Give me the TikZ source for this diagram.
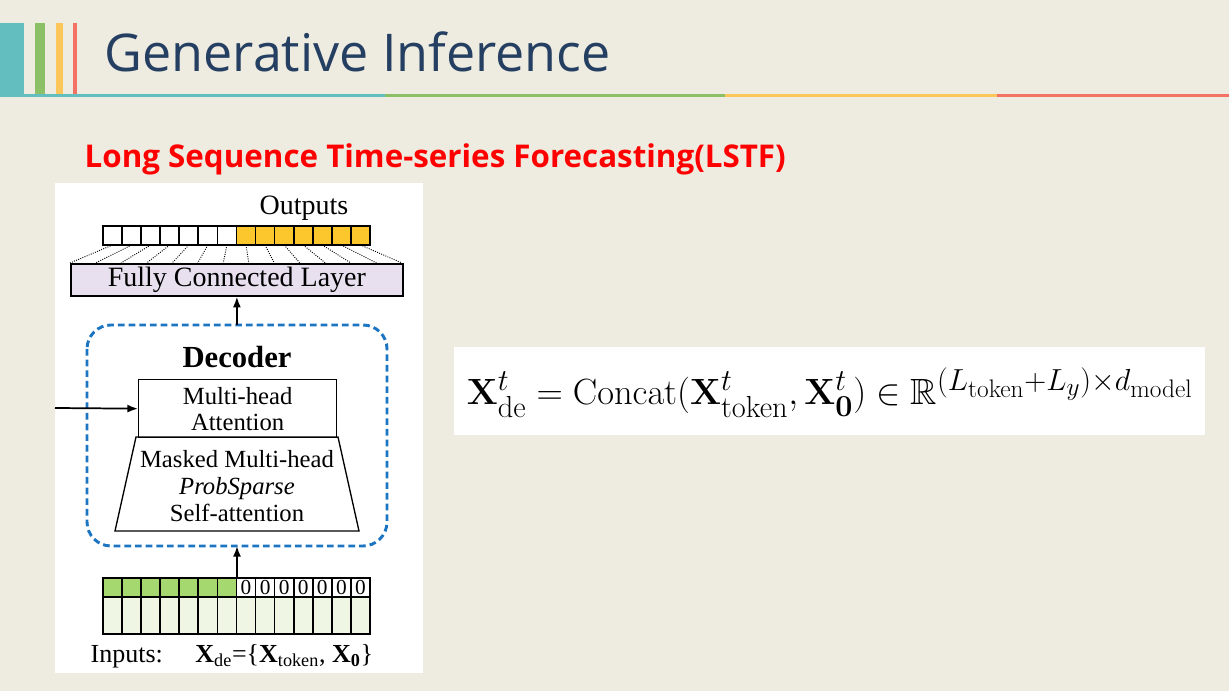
\documentclass[tikz,border=0pt]{standalone}
\usepackage{amsmath,amssymb}
\usepackage[no-math]{fontspec}
\setmainfont{Liberation Serif}
\newfontfamily\uifont{Open Sans}
\definecolor{bg}{HTML}{EEEBE0}
\definecolor{teal}{HTML}{63BFBF}
\definecolor{grn}{HTML}{8BC067}
\definecolor{yel}{HTML}{FDC65B}
\definecolor{redl}{HTML}{F47264}
\definecolor{navy}{HTML}{243F61}
\definecolor{lav}{HTML}{E8E0EF}
\definecolor{gold}{HTML}{FCC72C}
\definecolor{ingreen}{HTML}{A5D86F}
\definecolor{inpale}{HTML}{EFF7E4}
\definecolor{dblue}{HTML}{1B75C3}
\begin{document}
\begin{tikzpicture}[x=0.75pt,y=-0.75pt,
  cell/.style={draw,line width=1.3pt},
  arr/.style={-{Latex[length=8pt,width=6pt]},line width=1.3pt}]
\usetikzlibrary{arrows.meta}
\fill[bg] (0,0) rectangle (1229,691);
% header
\fill[teal] (0,23) rectangle (24,95);
\fill[grn] (35,23) rectangle (45,95);
\fill[yel] (56,23) rectangle (63,95);
\fill[redl] (73,23) rectangle (77,95);
\fill[teal] (0,94) rectangle (385,97);
\fill[grn] (385,94) rectangle (725,97);
\fill[yel] (725,94) rectangle (997,97);
\fill[redl] (997,94) rectangle (1229,97);
\node[anchor=west,text=navy,font=\uifont\fontsize{39}{44}\selectfont] (title) at (100,52) {Generative Inference};
\node[anchor=west,text=red,font=\uifont\bfseries\fontsize{23.5}{26}\selectfont] (sub) at (80,159) {Long Sequence Time-series Forecasting(LSTF)};
% figure panel
\fill[white] (55,183) rectangle (423,673);
\node[font=\fontsize{21}{24}\selectfont] (outs) at (304,208) {Outputs};
\foreach \i in {0,...,13}{
  \pgfmathsetmacro\xa{103+\i*19.07}
  \pgfmathsetmacro\xb{103+(\i+1)*19.07}
  \ifnum\i<7 \def\fc{white}\else\def\fc{gold}\fi
  \draw[cell,fill=\fc] (\xa,226) rectangle (\xb,245);
  \pgfmathsetmacro\ta{103+\i*19.07+9.5}
  \pgfmathsetmacro\tb{70+\i*332/13}
  \draw[densely dotted,line width=0.7pt] (\ta,245) -- (\tb,263);
}
\node[cell,fill=lav,minimum width=332*0.75pt,minimum height=32*0.75pt,inner sep=0pt,anchor=north west,font=\fontsize{21}{24}\selectfont] (fc) at (70,263) {Fully Connected Layer};
\draw[dblue,line width=2.2pt,dash pattern=on 5pt off 3pt,rounded corners=18pt] (87,325) rectangle (387,546);
\coordinate (dectop) at (237,325);
\coordinate (decbot) at (237,546);
\draw[arr] (dectop) -- (fc.south);
\node[font=\bfseries\fontsize{23}{26}\selectfont] (dec) at (237,357) {Decoder};
\node[draw,line width=1pt,fill=white,minimum width=198*0.75pt,minimum height=58*0.75pt,inner sep=0pt,anchor=north west,align=center,font=\fontsize{18.5}{19.5}\selectfont] (mha) at (138,379) {Multi-head\\Attention};
\draw[line width=1pt] (136,437) -- (338,437) -- (359,531) -- (115,531) -- cycle;
\node[align=center,font=\fontsize{18.5}{20}\selectfont] (mask) at (237,486) {Masked Multi-head\\\textit{ProbSparse}\\Self-attention};
\coordinate (lin) at (55,408);
\draw[arr] (lin) -- (mha.west);
% inputs
\foreach \i in {0,...,13}{
  \pgfmathsetmacro\xa{103+\i*19.07}
  \pgfmathsetmacro\xb{103+(\i+1)*19.07}
  \ifnum\i<7
    \draw[cell,fill=ingreen] (\xa,578) rectangle (\xb,597);
  \else
    \draw[cell,fill=white] (\xa,578) rectangle node[font=\fontsize{16}{16}\selectfont,inner sep=0pt] {0} (\xb,597);
  \fi
  \draw[cell,fill=inpale] (\xa,597) rectangle (\xb,634);
}
\coordinate (intop) at (237,578);
\draw[arr] (intop) -- (decbot);
\node[anchor=west,font=\fontsize{19.5}{22}\selectfont] (inp) at (86,656) {Inputs:\quad\ \textbf{X}\textsubscript{de}=\{\textbf{X}\textsubscript{token}, \textbf{X\textsubscript{0}}\}};
% formula
\fill[white] (454,347) rectangle (1205,435);
\node[font=\fontsize{24.88}{30}\selectfont,scale=1.1] (eq) at (830,393) {$\mathbf{X}_{\mathrm{de}}^{t}=\mathrm{Concat}(\mathbf{X}_{\mathrm{token}}^{t},\mathbf{X}_{\mathbf{0}}^{t})\in\mathbb{R}^{(L_{\mathrm{token}}+L_{y})\times d_{\mathrm{model}}}$};
\end{tikzpicture}
\end{document}
